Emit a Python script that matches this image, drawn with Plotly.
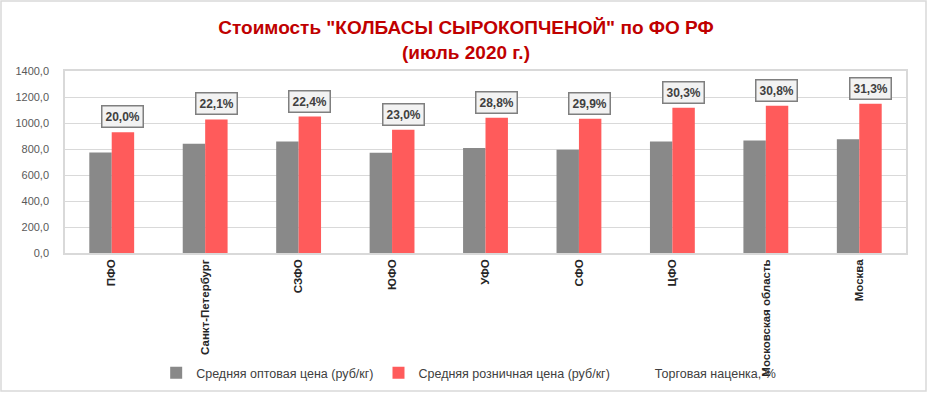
import plotly.graph_objects as go

categories = ["ПФО", "Санкт-Петербург", "СЗФО", "ЮФО", "УФО", "СФО", "ЦФО", "Московская область", "Москва"]
wholesale = [774, 841, 858, 771, 808, 795, 858, 866, 875]
retail = [929, 1027, 1050, 948, 1041, 1033, 1118, 1133, 1149]
markup_labels = ["20,0%", "22,1%", "22,4%", "23,0%", "28,8%", "29,9%", "30,3%", "30,8%", "31,3%"]
y_ticks = [0, 200, 400, 600, 800, 1000, 1200, 1400]

W, H = 931, 394
ml, mr, mt, mb = 65, 25, 71, 141
pw, ph = W - ml - mr, H - mt - mb

fig = go.Figure()
fig.add_trace(go.Bar(x=categories, y=wholesale, name="Средняя оптовая цена (руб/кг)",
                     marker=dict(color="#898989", line=dict(width=0))))
fig.add_trace(go.Bar(x=categories, y=retail, name="Средняя розничная цена (руб/кг)",
                     marker=dict(color="#FF5B5B", line=dict(width=0))))
fig.add_trace(go.Scatter(x=[None], y=[None], mode="lines", name="Торговая наценка, %",
                         line=dict(color="rgba(0,0,0,0)")))

for c, v, t in zip(categories, retail, markup_labels):
    fig.add_annotation(x=c, y=v, text="<b>" + t + "</b>", showarrow=False,
                       xanchor="center", yanchor="bottom", xshift=11, yshift=4,
                       font=dict(family="Arial", size=12, color="#404040"),
                       bgcolor="#F2F2F2", bordercolor="#7F7F7F", borderwidth=1.5, borderpad=3)

# outer chart border
fig.add_shape(type="rect", xref="paper", yref="paper",
              x0=(1 - ml) / pw, x1=(W - ml - 5) / pw,
              y0=-(mb - 3) / ph, y1=(ph + mt - 1) / ph,
              line=dict(color="#D9D9D9", width=1.5), fillcolor="rgba(0,0,0,0)", layer="below")

fig.update_layout(
    width=W, height=H,
    margin=dict(l=ml, r=mr, t=mt, b=mb, autoexpand=False),
    paper_bgcolor="white", plot_bgcolor="white",
    separators=", ",
    barmode="group", bargap=0.52, bargroupgap=0,
    title=dict(text="<b>Стоимость \"КОЛБАСЫ СЫРОКОПЧЕНОЙ\" по ФО РФ<br>(июль 2020 г.)</b>",
               x=(466 - ml) / pw, xref="paper", xanchor="center", y=0.913, yanchor="middle",
               font=dict(family="Arial", size=19, color="#C00000")),
    showlegend=True,
    legend=dict(orientation="h", x=0.48, xanchor="center", y=-0.66, yanchor="middle",
                bgcolor="rgba(0,0,0,0)",
                font=dict(family="Arial", size=12.5, color="#404040"),
                itemwidth=30, traceorder="normal"),
    font=dict(family="Arial"),
)
fig.update_xaxes(type="category", tickangle=-90, showline=True, linecolor="#D9D9D9", linewidth=1.5,
                 mirror=True, tickfont=dict(family="Arial", size=11.5, color="#262626", weight="bold"),
                 ticks="", showgrid=False, automargin=False)
fig.update_yaxes(range=[0, 1400], tickvals=y_ticks, tickformat=".1f", showgrid=True,
                 gridcolor="#D9D9D9", gridwidth=1.2, showline=True, linecolor="#D9D9D9", linewidth=1.5,
                 mirror=True, zeroline=False, ticks="", ticklabelstandoff=12, automargin=False,
                 tickfont=dict(family="Arial", size=11, color="#595959"))

fig.write_html("out.html", config={"displayModeBar": False},
               post_script="document.body.style.margin='0';document.body.style.overflow='hidden';")
